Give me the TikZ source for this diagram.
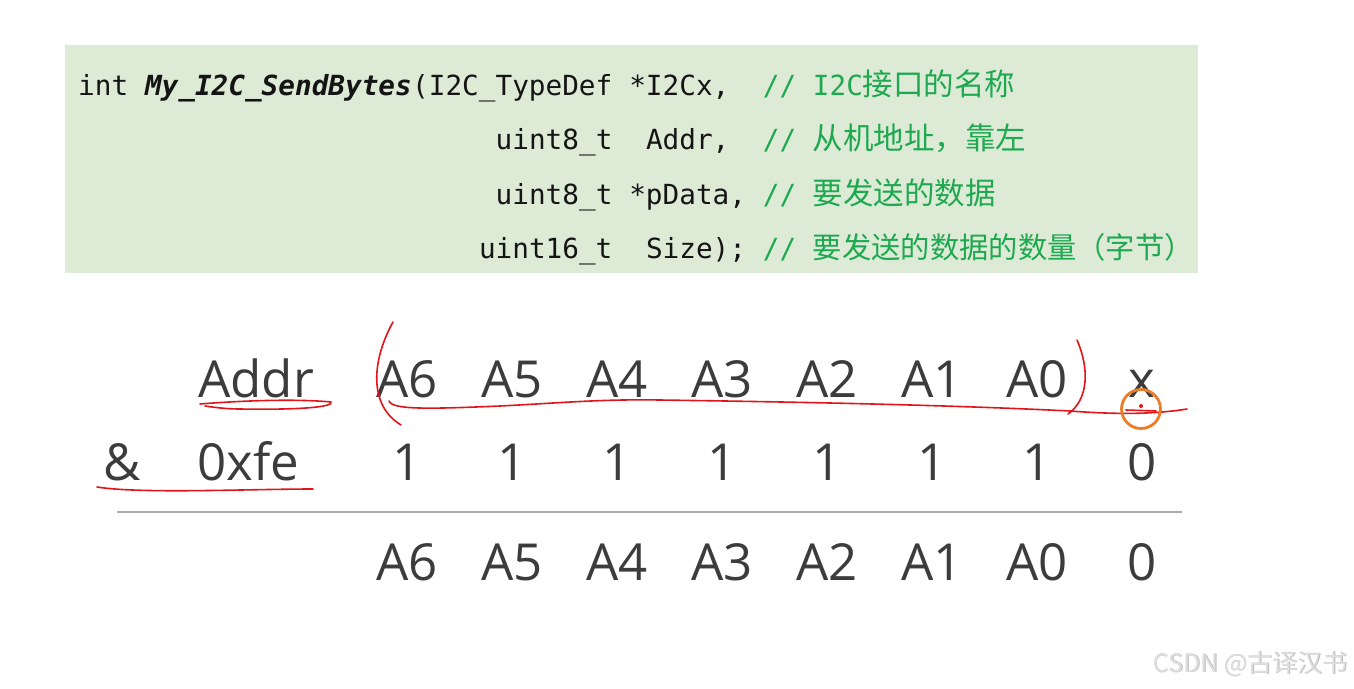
\documentclass[tikz,border=0pt]{standalone}
\usepackage{fontspec}
\newfontfamily\codefont{DejaVu Sans Mono}
\newfontfamily\cjk{Noto Sans CJK SC}
\newfontfamily\bitfont{Open Sans}
\definecolor{boxgreen}{RGB}{221,235,214}
\definecolor{cmtgreen}{RGB}{30,168,80}
\definecolor{codeblack}{RGB}{20,20,20}
\definecolor{bitgray}{RGB}{60,60,60}
\definecolor{rulegray}{RGB}{170,170,170}
\definecolor{penred}{RGB}{225,20,25}
\definecolor{penorange}{RGB}{235,125,40}
\definecolor{wmgray}{RGB}{222,222,222}
\definecolor{wmshade}{RGB}{185,185,185}
\begin{document}
\begin{tikzpicture}[x=1pt,y=-1pt,
  code/.style={anchor=base west, inner sep=0pt, text=codeblack, font={\codefont\fontsize{27.7}{30}\selectfont}},
  cmt/.style={anchor=base west, inner sep=0pt, text=cmtgreen, font={\codefont\fontsize{27.7}{30}\selectfont}},
  bit/.style={anchor=base, inner sep=0pt, text=bitgray, font={\bitfont\fontsize{51}{55}\selectfont}},
  pen/.style={draw=penred, line width=1.6pt, line cap=round, line join=round},
  wmark/.style={anchor=base east, inner sep=0pt, font={\cjk\fontsize{25}{27}\selectfont}}
]
\useasboundingbox (0,0) rectangle (1354,688);
\fill[white] (0,0) rectangle (1354,688);
% code box
\node[fill=boxgreen, draw=none, minimum width=1133pt, minimum height=228pt, anchor=north west, inner sep=0pt] (box) at (65,45) {};
\def\cw{16.7}
% line 1
\node[code] (l1a) at (78,95) {int};
\node[code] (l1b) at ({78+4*\cw},95) {\bfseries\itshape My\_I2C\_SendBytes};
\node[code] (l1c) at ({78+20*\cw},95) {(I2C\_TypeDef};
\node[code] (l1d) at ({78+33*\cw},95) {*I2Cx,};
\node[cmt] (l1e) at ({78+41*\cw},95) {//\hspace{\cw pt}I2C{\cjk\fontsize{30.5}{30}\selectfont 接口的名称}};
% line 2
\node[code] (l2a) at ({78+25*\cw},149) {uint8\_t};
\node[code] (l2b) at ({78+34*\cw},149) {Addr,};
\node[cmt] (l2e) at ({78+41*\cw},149) {//\hspace{\cw pt}{\cjk\fontsize{30.5}{30}\selectfont 从机地址，靠左}};
% line 3
\node[code] (l3a) at ({78+25*\cw},204) {uint8\_t};
\node[code] (l3b) at ({78+33*\cw},204) {*pData,};
\node[cmt] (l3e) at ({78+41*\cw},204) {//\hspace{\cw pt}{\cjk\fontsize{30.5}{30}\selectfont 要发送的数据}};
% line 4
\node[code] (l4a) at ({78+24*\cw},258) {uint16\_t};
\node[code] (l4b) at ({78+34*\cw},258) {Size);};
\node[cmt] (l4e) at ({78+41*\cw},258) {//\hspace{\cw pt}{\cjk\fontsize{29.3}{30}\selectfont 要发送的数据的数量（字节）}};
% bit table
\node[bit] (addr) at (256,397) {Addr};
\node[bit] (amp) at (122,480) {\&};
\node[bit] (mask) at (248,480) {0xfe};
\foreach \i/\t in {0/A6,1/A5,2/A4,3/A3,4/A2,5/A1,6/A0,7/x} {
  \node[bit] (r1c\i) at ({407+105*\i},397) {\t};
}
\foreach \i/\t in {0/1,1/1,2/1,3/1,4/1,5/1,6/1,7/0} {
  \node[bit] (r2c\i) at ({407+105*\i},480) {\t};
}
\foreach \i/\t in {0/A6,1/A5,2/A4,3/A3,4/A2,5/A1,6/A0,7/0} {
  \node[bit] (r3c\i) at ({407+105*\i},580) {\t};
}
\coordinate (ruleL) at (117,512);
\coordinate (ruleR) at (1182,512);
\draw[rulegray, line width=1.6pt] (ruleL) -- (ruleR);
% red pen annotations
\draw[pen] (200,404) .. controls (250,400) and (300,399) .. (331,402)
  .. controls (334,407) and (300,410) .. (240,409) .. controls (225,409) and (212,407) .. (205,406);
\draw[pen] (97,487) .. controls (140,494) and (250,489) .. (313,489);
\draw[pen] (393,322) .. controls (372,360) and (368,405) .. (401,425);
\draw[pen] (389,401) .. controls (392,410) and (430,409) .. (500,406)
  .. controls (560,403) and (600,399) .. (660,400)
  .. controls (800,402) and (950,405) .. (1070,411)
  .. controls (1110,414) and (1150,415) .. (1187,409);
\draw[pen] (1077,340) .. controls (1090,370) and (1088,400) .. (1068,414);
\draw[pen, line width=1.6pt] (1126,410) -- (1156,411);
\fill[penred] (1141,406) circle (2);
\node[draw=penorange, line width=2.8pt, circle, minimum size=39pt, inner sep=0pt] (circ) at (1141,409) {};
% watermark
\node[wmark, text=wmshade] (wmshadow) at (1348.8,672.8) {CSDN @古译汉书};
\node[wmark, text=wmgray] (wm) at (1348,672) {CSDN @古译汉书};
\end{tikzpicture}
\end{document}
